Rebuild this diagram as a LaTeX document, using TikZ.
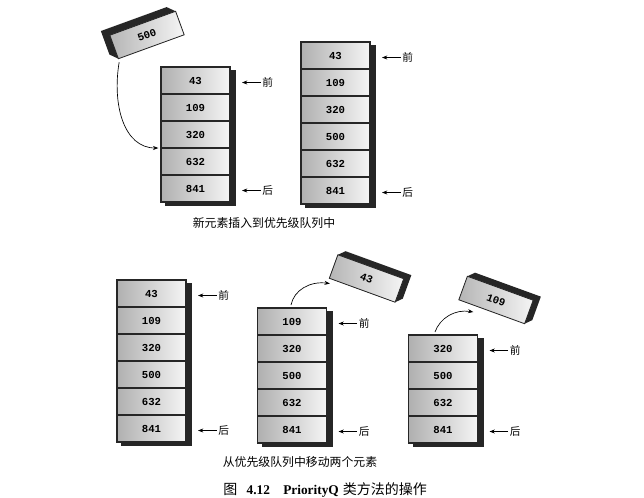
\documentclass[tikz,border=0pt]{standalone}
\usepackage{fontspec}
\setmainfont{Liberation Serif}
\newfontfamily\cjk{Noto Sans CJK SC}
\newfontfamily\qnum{Liberation Mono}
\usetikzlibrary{arrows.meta,positioning,backgrounds}
\tikzset{
  qcell/.style={draw=black!85, line width=0.8pt, left color=gray!62, right color=gray!8, minimum width=51.75pt, minimum height=20.25pt, inner sep=0pt, outer sep=0pt, font=\qnum\bfseries\fontsize{8}{9}\selectfont},
  qface/.style={draw=black!85, line width=0.6pt, left color=gray!58, right color=gray!8, minimum width=52.5pt, minimum height=18.75pt, inner sep=0pt, font=\qnum\bfseries\fontsize{8}{9}\selectfont, transform shape},
  qdepth/.style={fill=black!85},
  qshadow/.style={fill=black!85},
  qtag/.style={font=\cjk\fontsize{8}{9}\selectfont, inner sep=0pt},
  qptr/.style={-{Stealth[length=4pt,width=3pt]}, line width=0.5pt},
  qmove/.style={-{Stealth[length=4pt,width=3pt]}, line width=0.5pt},
  qcap/.style={font=\cjk\fontsize{8.9}{10}\selectfont, inner sep=0pt}
}
\begin{document}
\begin{tikzpicture}[x=0.75pt, y=-0.75pt]
% insert 500
\node[qcell] (a1) at (195.5,80.5) {43};
\node[qcell, below=0pt of a1] (a2) {109};
\node[qcell, below=0pt of a2] (a3) {320};
\node[qcell, below=0pt of a3] (a4) {632};
\node[qcell, below=0pt of a4] (a5) {841};
\node[qtag, right=24pt of a1, yshift=-1.5pt] (a1f) {前};
\node[qtag, right=24pt of a5, yshift=-1.5pt] (a5r) {后};
\draw[qptr] ([xshift=-1pt]a1f.west) -- ([xshift=-15pt]a1f.west);
\draw[qptr] ([xshift=-1pt]a5r.west) -- ([xshift=-15pt]a5r.west);

\node[qcell] (b1) at (335.5,55.5) {43};
\node[qcell, below=0pt of b1] (b2) {109};
\node[qcell, below=0pt of b2] (b3) {320};
\node[qcell, below=0pt of b3] (b4) {500};
\node[qcell, below=0pt of b4] (b5) {632};
\node[qcell, below=0pt of b5] (b6) {841};
\node[qtag, right=24pt of b1, yshift=-1.5pt] (b1f) {前};
\node[qtag, right=24pt of b6, yshift=-1.5pt] (b6r) {后};
\draw[qptr] ([xshift=-1pt]b1f.west) -- ([xshift=-15pt]b1f.west);
\draw[qptr] ([xshift=-1pt]b6r.west) -- ([xshift=-15pt]b6r.west);

\begin{scope}[shift={(147,35)}, rotate=20]
\fill[qdepth] (-42,-19.5) -- (28,-19.5) -- (35,-12.5) -- (35,12.5) -- (-35,12.5) -- (-42,5.5) -- cycle;
\node[qface] (n1) at (0,0) {500};
\end{scope}
\draw[qmove] ([shift={(1,3)}]n1.south west) .. controls (112,105) and (124,148) .. ([xshift=-2pt]a3.south west);

\node[qcap] (cap1) at (264,223) {新元素插入到优先级队列中};

% remove two
\node[qcell] (c1) at (151.5,293.5) {43};
\node[qcell, below=0pt of c1] (c2) {109};
\node[qcell, below=0pt of c2] (c3) {320};
\node[qcell, below=0pt of c3] (c4) {500};
\node[qcell, below=0pt of c4] (c5) {632};
\node[qcell, below=0pt of c5] (c6) {841};
\node[qtag, right=24pt of c1, yshift=-1.5pt] (c1f) {前};
\node[qtag, right=24pt of c6, yshift=-1.5pt] (c6r) {后};
\draw[qptr] ([xshift=-1pt]c1f.west) -- ([xshift=-15pt]c1f.west);
\draw[qptr] ([xshift=-1pt]c6r.west) -- ([xshift=-15pt]c6r.west);

\node[qcell] (d1) at (292,321.5) {109};
\node[qcell, below=0pt of d1] (d2) {320};
\node[qcell, below=0pt of d2] (d3) {500};
\node[qcell, below=0pt of d3] (d4) {632};
\node[qcell, below=0pt of d4] (d5) {841};
\node[qtag, right=24pt of d1, yshift=-1.5pt] (d1f) {前};
\node[qtag, right=24pt of d5, yshift=-1.5pt] (d5r) {后};
\draw[qptr] ([xshift=-1pt]d1f.west) -- ([xshift=-15pt]d1f.west);
\draw[qptr] ([xshift=-1pt]d5r.west) -- ([xshift=-15pt]d5r.west);

\begin{scope}[shift={(366.5,278.5)}, rotate=-20]
\fill[qdepth] (-35,-12.5) -- (-29,-18.5) -- (41,-18.5) -- (41,6.5) -- (35,12.5) -- (-35,12.5) -- cycle;
\node[qface] (m1) at (0,0) {43};
\end{scope}
\draw[qmove] ([shift={(-1,-3)}]d1.north) .. controls (294,290) and (310,281) .. ([shift={(1,5)}]m1.south west);

\node[qcell] (e1) at (443,348.5) {320};
\node[qcell, below=0pt of e1] (e2) {500};
\node[qcell, below=0pt of e2] (e3) {632};
\node[qcell, below=0pt of e3] (e4) {841};
\node[qtag, right=24pt of e1, yshift=-1.5pt] (e1f) {前};
\node[qtag, right=24pt of e4, yshift=-1.5pt] (e4r) {后};
\draw[qptr] ([xshift=-1pt]e1f.west) -- ([xshift=-15pt]e1f.west);
\draw[qptr] ([xshift=-1pt]e4r.west) -- ([xshift=-15pt]e4r.west);

\begin{scope}[shift={(496,300)}, rotate=-20]
\fill[qdepth] (-35,-12.5) -- (-29,-18.5) -- (41,-18.5) -- (41,6.5) -- (35,12.5) -- (-35,12.5) -- cycle;
\node[qface] (m2) at (0,0) {109};
\end{scope}
\draw[qmove] ([shift={(-8,-3)}]e1.north) .. controls (440,318) and (455,309) .. ([shift={(15,12)}]m2.south west);

\node[qcap] (cap2) at (300,462) {从优先级队列中移动两个元素};
\node[anchor=west, inner sep=0pt] (fig) at (223,490) {{\cjk\fontsize{10.5}{12}\selectfont 图}\hspace{7pt}{\bfseries\fontsize{10}{12}\selectfont 4.12\hspace{10pt}PriorityQ}\hspace{3pt}{\cjk\fontsize{10.5}{12}\selectfont 类方法的操作}};

\begin{scope}[on background layer]
\fill[white] (0,0) rectangle (644,496);
\useasboundingbox (0,0) rectangle (644,496);
\fill[qshadow] ([shift={(4,3)}]a1.north west) rectangle ([shift={(6,4)}]a5.south east);
\fill[qshadow] ([shift={(4,3)}]b1.north west) rectangle ([shift={(6,4)}]b6.south east);
\fill[qshadow] ([shift={(4,3)}]c1.north west) rectangle ([shift={(6,4)}]c6.south east);
\fill[qshadow] ([shift={(4,3)}]d1.north west) rectangle ([shift={(6,4)}]d5.south east);
\fill[qshadow] ([shift={(4,3)}]e1.north west) rectangle ([shift={(6,4)}]e4.south east);
\end{scope}
\end{tikzpicture}
\end{document}
